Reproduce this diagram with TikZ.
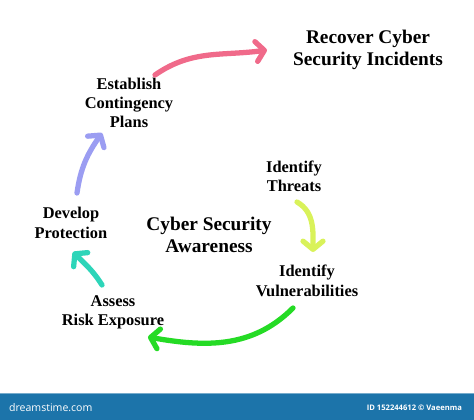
\documentclass[tikz,border=0pt]{standalone}
\usepackage{fontspec}
\setmainfont{Liberation Serif}
\newfontfamily\barfont{Open Sans}
\usetikzlibrary{arrows.meta}
\definecolor{pinkarr}{HTML}{F06A8A}
\definecolor{lavarr}{HTML}{9B9DF2}
\definecolor{yelarr}{HTML}{D9F25A}
\definecolor{tealarr}{HTML}{2DD5B9}
\definecolor{greenarr}{HTML}{25DB25}
\definecolor{barblue}{HTML}{1C74AA}
\begin{document}
\begin{tikzpicture}[x=0.03cm, y=0.03cm,
	main/.style = {align=center, inner sep=0pt, font=\bfseries\fontsize{14}{16.5}\selectfont},
	big/.style = {align=center, inner sep=0pt, font=\bfseries\fontsize{16.5}{19}\selectfont},
	arr/.style = {line width=4.5pt, line cap=round, -{Straight Barb[length=7pt, width=17pt, round]}}]
	\useasboundingbox (0,0) rectangle (474,420);
	\fill[barblue] (0,0) rectangle (474,27);
	\draw[barblue!60!white, line width=0.6pt] (0,27) -- (474,27);
	\node[big] (recover) at (368,370) {Recover Cyber\\Security Incidents};
	\node[main] (establish) at (129,317) {Establish\\Contingency\\Plans};
	\node[main] (threats) at (294,244) {Identify\\Threats};
	\node[big] (aware) at (209,185) {Cyber Security\\Awareness};
	\node[main] (develop) at (71,197) {Develop\\Protection};
	\node[main] (vuln) at (307,139) {Identify\\Vulnerabilities};
	\node[main] (assess) at (113,108) {Assess\\Risk Exposure};
	\node[anchor=west, text=white, font=\barfont\fontsize{9}{10}\selectfont] (site) at (5,12) {dreamstime.com};
	\node[anchor=east, text=white, font=\barfont\bfseries\fontsize{6.5}{8}\selectfont] (id) at (466,12) {ID 152244612 © Vaeenma};
	\draw[arr, pinkarr] ([shift={(26,28)}]establish.center) to[out=35, in=188] ([shift={(-101,0)}]recover.center);
	\draw[arr, lavarr] ([shift={(6,30)}]develop.center) to[out=82, in=235] ([shift={(-27,-30)}]establish.center);
	\draw[arr, yelarr] ([shift={(3,-26)}]threats.center) to[out=-30, in=90] ([shift={(6,29)}]vuln.center);
	\draw[arr, tealarr] ([shift={(-11,27)}]assess.center) to[out=122, in=-45] ([shift={(2,-29)}]develop.center);
	\draw[arr, greenarr] ([shift={(-14,-27)}]vuln.center) to[out=225, in=-10] ([shift={(35,-25)}]assess.center);
\end{tikzpicture}
\end{document}
